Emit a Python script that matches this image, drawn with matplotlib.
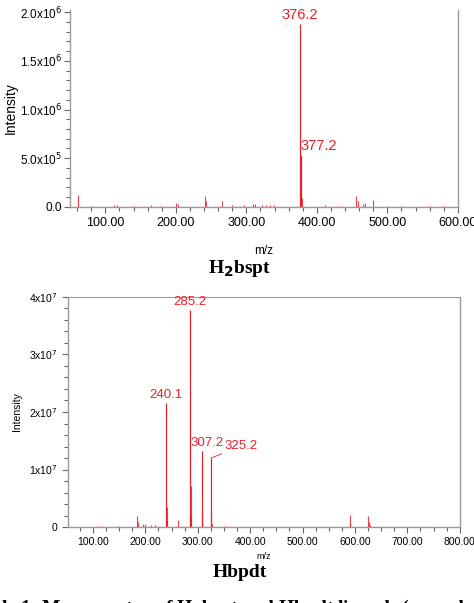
import numpy as np
import matplotlib
matplotlib.use("Agg")
import matplotlib.pyplot as plt
from matplotlib.ticker import MultipleLocator, FixedLocator

# ---- H2bspt spectrum (m/z, intensity) ----
top_main_mz = [376.2, 377.2]
top_main_int = [1.88e6, 0.53e6]
top_minor_mz = [61, 80, 112, 117, 140, 165, 178, 200, 203, 241, 243, 265, 280,
                296, 310, 312, 322, 328, 333, 339, 378.2, 412, 430, 456, 458,
                465, 468, 480, 500, 520, 560, 580]
top_minor_int = [0.12e6, 0.01e6, 0.015e6, 0.02e6, 0.01e6, 0.015e6, 0.01e6, 0.04e6,
                 0.025e6, 0.11e6, 0.06e6, 0.06e6, 0.02e6, 0.015e6, 0.03e6, 0.025e6,
                 0.02e6, 0.02e6, 0.02e6, 0.02e6, 0.09e6, 0.02e6, 0.01e6, 0.11e6,
                 0.06e6, 0.03e6, 0.04e6, 0.07e6, 0.01e6, 0.01e6, 0.01e6, 0.01e6]

# ---- Hbpdt spectrum ----
bot_main_mz = [240.1, 285.2, 307.2, 325.2]
bot_main_int = [2.16e7, 3.77e7, 1.32e7, 1.20e7]
bot_minor_mz = [110, 150, 184, 186, 195, 200, 210, 218, 241.1, 242, 262, 286.2,
                287, 308.2, 309, 326.2, 327, 350, 590, 591, 624, 626, 628]
bot_minor_int = [0.02e7, 0.02e7, 0.19e7, 0.08e7, 0.06e7, 0.05e7, 0.04e7, 0.03e7,
                 0.35e7, 0.1e7, 0.12e7, 0.72e7, 0.2e7, 0.24e7, 0.05e7, 0.25e7,
                 0.06e7, 0.01e7, 0.21e7, 0.06e7, 0.19e7, 0.08e7, 0.03e7]

top_yticks = [0, 0.5e6, 1.0e6, 1.5e6, 2.0e6]
top_ylabels = ["0.0", r"5.0x10$^5$", r"1.0x10$^6$", r"1.5x10$^6$", r"2.0x10$^6$"]
bot_yticks = [0, 1e7, 2e7, 3e7, 4e7]
bot_ylabels = ["0", r"1x10$^7$", r"2x10$^7$", r"3x10$^7$", r"4x10$^7$"]

RED = "#e8202c"
GRAY = "#9a9a9a"
ARIAL = ["Liberation Sans", "DejaVu Sans"]

fig = plt.figure(figsize=(4.74, 6.03), dpi=100)

ax1 = fig.add_axes([0.148, 0.657, 0.818, 0.326])
ax2 = fig.add_axes([0.143, 0.126, 0.827, 0.3815])


def draw_spectrum(ax, mz_main, int_main, mz_minor, int_minor):
    all_mz = np.array(mz_main + mz_minor)
    ax.vlines(mz_minor, 0, int_minor, color=RED, lw=0.8, alpha=0.85)
    ax.vlines(mz_main, 0, int_main, color=RED, lw=0.9)
    ax.plot([all_mz.min() - 8, all_mz.max() + 120], [0, 0], color=RED, lw=0.8, alpha=0.7)


def style_axes(ax, top_spine):
    for s in ["left", "bottom", "right"]:
        ax.spines[s].set_color(GRAY)
        ax.spines[s].set_linewidth(1.0)
    ax.spines["top"].set_visible(top_spine)
    ax.spines["top"].set_color(GRAY)
    ax.tick_params(which="both", direction="out", color="#666666", width=0.8)
    ax.tick_params(which="major", length=4)
    ax.tick_params(which="minor", length=3)


# top panel
draw_spectrum(ax1, top_main_mz, top_main_int, top_minor_mz, top_minor_int)
ax1.set_xlim(50, 600)
ax1.set_ylim(0, 2.02e6)
style_axes(ax1, False)
ax1.xaxis.set_major_locator(FixedLocator([100, 200, 300, 400, 500, 600]))
ax1.xaxis.set_minor_locator(MultipleLocator(20))
ax1.set_xticklabels(["100.00", "200.00", "300.00", "400.00", "500.00", "600.00"],
                    family=ARIAL, fontsize=9)
ax1.set_yticks(top_yticks)
ax1.set_yticklabels(top_ylabels, family=ARIAL, fontsize=8.5)
ax1.tick_params(axis="y", which="major", pad=2)
ax1.yaxis.set_minor_locator(MultipleLocator(1e5))
ax1.set_xlabel("m/z", family=ARIAL, fontsize=8.5, labelpad=11)
ax1.set_ylabel("Intensity", family=ARIAL, fontsize=10)
ax1.yaxis.set_label_coords(-0.135, 0.5)
ax1.text(376.2, 1.9e6, "376.2", color=RED, family=ARIAL, fontsize=10.5,
         ha="center", va="bottom")
ax1.text(376.4, 0.55e6, "377.2", color=RED, family=ARIAL, fontsize=10.5,
         ha="left", va="bottom")

# bottom panel
draw_spectrum(ax2, bot_main_mz, bot_main_int, bot_minor_mz, bot_minor_int)
ax2.set_xlim(52, 800)
ax2.set_ylim(0, 4e7)
style_axes(ax2, True)
ax2.xaxis.set_major_locator(FixedLocator([100, 200, 300, 400, 500, 600, 700, 800]))
ax2.xaxis.set_minor_locator(MultipleLocator(25))
ax2.set_xticklabels(["100.00", "200.00", "300.00", "400.00", "500.00", "600.00",
                     "700.00", "800.00"], family=ARIAL, fontsize=7.5)
ax2.set_yticks(bot_yticks)
ax2.set_yticklabels(bot_ylabels, family=ARIAL, fontsize=7.5)
ax2.yaxis.set_minor_locator(MultipleLocator(2e6))
ax2.set_xlabel("m/z", family=ARIAL, fontsize=6.5, labelpad=3)
ax2.set_ylabel("Intensity", family=ARIAL, fontsize=7.5)
ax2.yaxis.set_label_coords(-0.117, 0.5)
for mz, inten in zip(bot_main_mz[:2], bot_main_int[:2]):
    ax2.text(mz, inten + 0.03e7, f"{mz:.1f}", color=RED, family=ARIAL,
             fontsize=9.5, ha="center", va="bottom")
ax2.text(bot_main_mz[1] + 1.5, bot_main_int[2] + 0.03e7, f"{bot_main_mz[2]:.1f}",
         color=RED, family=ARIAL, fontsize=9.5, ha="left", va="bottom")
ax2.annotate(f"{bot_main_mz[3]:.1f}", xy=(bot_main_mz[3], bot_main_int[3]),
             xytext=(bot_main_mz[3] + 26, bot_main_int[3] + 0.1e7),
             color=RED, family=ARIAL, fontsize=9.5, ha="left", va="bottom",
             arrowprops=dict(arrowstyle="-", color=RED, lw=0.6,
                             shrinkA=0, shrinkB=0))

# panel titles and caption
fig.text(0.505, 0.555, r"H$_{\mathbf{2}}$bspt", family="Liberation Serif",
         fontweight="bold", fontsize=14, ha="center", va="center")
fig.text(0.505, 0.051, "Hbpdt", family="Liberation Serif",
         fontweight="bold", fontsize=14, ha="center", va="center")
fig.text(-0.02, -0.016, "ble 1: Mass spectra of H$_2$bspt and Hbpdt ligands (recorded in",
         family="Liberation Serif", fontweight="bold", fontsize=14,
         ha="left", va="baseline")

fig.savefig("out.png", dpi=100)
